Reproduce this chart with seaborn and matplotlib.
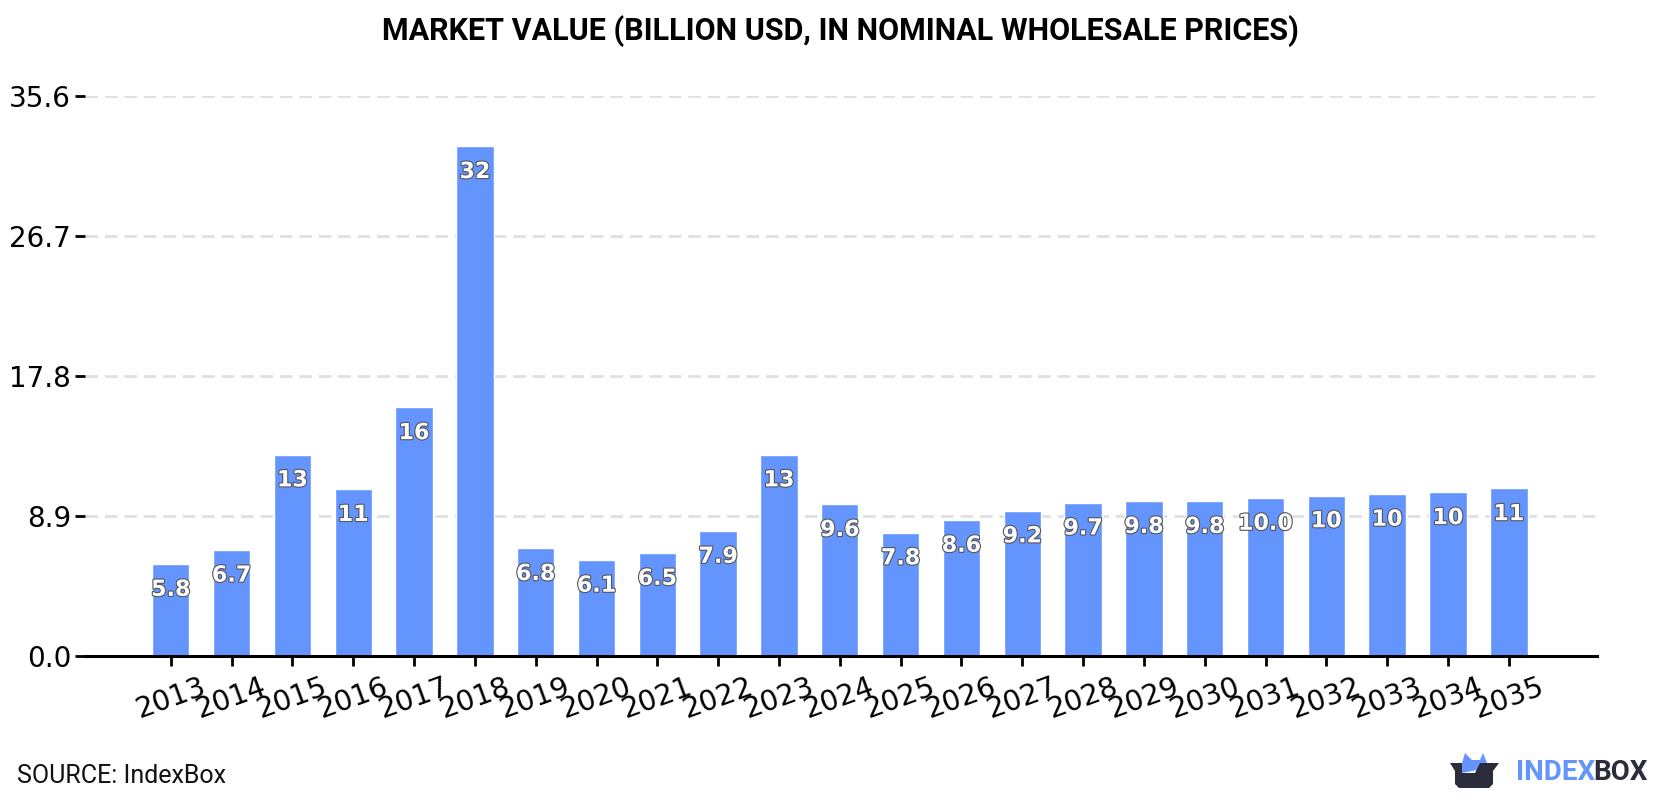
import matplotlib
matplotlib.use("Agg")
import matplotlib.pyplot as plt
import matplotlib.patheffects as pe
from matplotlib.patches import Polygon
import pandas as pd
import seaborn as sns

years = [str(y) for y in range(2013, 2036)]
values = [5.84, 6.74, 12.8, 10.6, 15.8, 32.4, 6.84, 6.1, 6.54, 7.94, 12.8, 9.64, 7.84,
          8.64, 9.24, 9.74, 9.84, 9.84, 10.04, 10.2, 10.3, 10.4, 10.65]
labels = ["5.8", "6.7", "13", "11", "16", "32", "6.8", "6.1", "6.5", "7.9", "13", "9.6", "7.8",
          "8.6", "9.2", "9.7", "9.8", "9.8", "10.0", "10", "10", "10", "11"]
y_ticks = [0.0, 8.9, 17.8, 26.7, 35.6]

BLUE = "#6495ff"
DARK = "#2b2d3a"
W, H = 1680, 800

sns.set_theme(style="white")
plt.rcParams["font.family"] = ["Roboto", "DejaVu Sans"]

fig = plt.figure(figsize=(W / 100, H / 100), dpi=100, facecolor="white")
ax = fig.add_axes([85 / W, 1 - 656 / H, (1597 - 85) / W, (656 - 96) / H])

df = pd.DataFrame({"year": years, "value": values})
sns.barplot(data=df, x="year", y="value", color=BLUE, saturation=1, width=0.615, ax=ax, zorder=3)

ax.set_xlim(-1.41, 23.45)
ax.set_ylim(0, 35.6)
ax.set_xlabel("")
ax.set_ylabel("")
ax.set_yticks(y_ticks, [f"{t:.1f}" for t in y_ticks])
ax.yaxis.grid(True, color="#e0e0e0", linestyle=(0, (4.5, 2.5)), linewidth=2, zorder=0)
ax.xaxis.grid(False)
ax.set_axisbelow(True)

for side in ("top", "right", "left"):
    ax.spines[side].set_visible(False)
ax.spines["bottom"].set_linewidth(2.2)
ax.spines["bottom"].set_color("black")
ax.spines["bottom"].set_zorder(5)

ax.tick_params(axis="y", length=7, width=2, color="black", labelsize=20, labelcolor="black", pad=3, left=True)
ax.tick_params(axis="x", length=7, width=2, color="black", labelsize=20.5, labelcolor="black", pad=5, bottom=True)
for tick in ax.get_xticklabels() + ax.get_yticklabels():
    tick.set_family("DejaVu Sans")
plt.setp(ax.get_xticklabels(), rotation=20, ha="center", rotation_mode="default")

# value labels sit just below each bar top
for i, (v, text) in enumerate(zip(values, labels)):
    ax.annotate(
        text, (i, v), xytext=(0, -18.5), textcoords="offset points",
        ha="center", va="center", color="white", fontsize=16, fontweight="bold",
        family="DejaVu Sans", zorder=6,
        path_effects=[pe.withStroke(linewidth=1.6, foreground="#555555")],
    )

fig.text(840 / W, 1 - 31 / H, "MARKET VALUE (BILLION USD, IN NOMINAL WHOLESALE PRICES)",
         ha="center", va="center", fontsize=22, fontweight="bold", color="black")
fig.text(17 / W, 1 - 776 / H, "SOURCE: IndexBox", ha="left", va="center", fontsize=18, color="#111111")


def px(points):
    return [(x / W, 1 - y / H) for x, y in points]


# logo: blue shape rising out of a dark open box
fig.add_artist(Polygon(px([(1462, 763), (1465, 753), (1472, 760), (1480, 760), (1483, 753), (1487, 763),
                           (1487, 768), (1462, 773)]), closed=True, transform=fig.transFigure,
                       facecolor=BLUE, edgecolor="none"))
fig.add_artist(Polygon(px([(1450, 763), (1462, 763), (1462, 773), (1475, 773), (1480, 763), (1499, 763),
                           (1493, 771), (1493, 784), (1489, 788), (1459, 788), (1455, 784), (1455, 771)]),
                       closed=True, transform=fig.transFigure, facecolor=DARK, edgecolor="none"))
fig.text(1516 / W, 1 - 773 / H, "INDEX", ha="left", va="center", fontsize=20, fontweight="bold", color=BLUE)
fig.text(1648 / W, 1 - 773 / H, "BOX", ha="right", va="center", fontsize=20, fontweight="bold", color=DARK)

fig.savefig("out.png", dpi=100, facecolor="white")
